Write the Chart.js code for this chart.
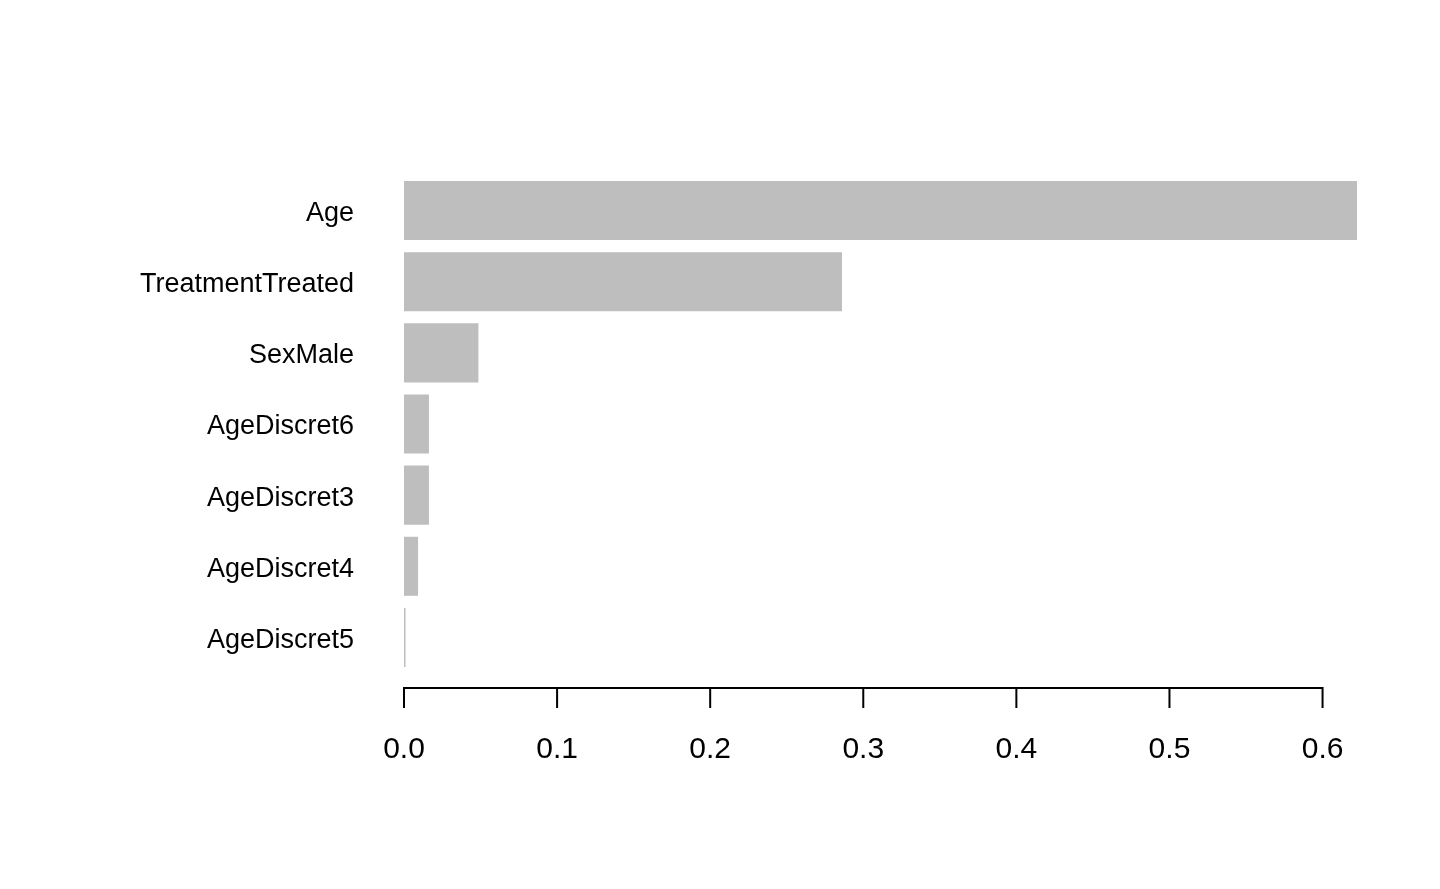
<!DOCTYPE html>
<html>
<head>
<meta charset="utf-8">
<script src="https://cdn.jsdelivr.net/npm/chart.js@4/dist/chart.umd.min.js"></script>
<style>
  html, body { margin: 0; padding: 0; background: #ffffff; }
  #wrap { width: 1440px; height: 889px; position: relative; }
</style>
</head>
<body>
<div id="wrap"><canvas id="c" width="1440" height="889"></canvas></div>
<script>
const categories = ["Age", "TreatmentTreated", "SexMale", "AgeDiscret6", "AgeDiscret3", "AgeDiscret4", "AgeDiscret5"];
const importance = [0.6225, 0.2861, 0.0486, 0.0163, 0.0163, 0.0092, 0.0010];
const tickValues = [0.0, 0.1, 0.2, 0.3, 0.4, 0.5, 0.6];
const tickLabels = ["0.0", "0.1", "0.2", "0.3", "0.4", "0.5", "0.6"];

const axisPlugin = {
  id: 'rAxis',
  afterDraw(chart) {
    const xs = chart.scales.x;
    const ctx = chart.ctx;
    const yLine = chart.chartArea.bottom + 15;
    ctx.save();
    ctx.strokeStyle = '#000000';
    ctx.lineWidth = 2;
    ctx.lineCap = 'butt';
    ctx.beginPath();
    const x0 = xs.getPixelForValue(tickValues[0]);
    const x1 = xs.getPixelForValue(tickValues[tickValues.length - 1]);
    ctx.moveTo(x0 - 1, yLine);
    ctx.lineTo(x1 + 1, yLine);
    tickValues.forEach(v => {
      const px = xs.getPixelForValue(v);
      ctx.moveTo(px, yLine);
      ctx.lineTo(px, yLine + 20);
    });
    ctx.stroke();
    ctx.restore();
  }
};

new Chart(document.getElementById('c'), {
  type: 'bar',
  data: {
    labels: categories,
    datasets: [{
      data: importance,
      backgroundColor: '#bebebe',
      borderWidth: 0,
      barPercentage: 0.83,
      categoryPercentage: 1.0
    }]
  },
  options: {
    indexAxis: 'y',
    responsive: false,
    animation: false,
    events: [],
    layout: { padding: { top: 175, right: 83, left: 0, bottom: 0 } },
    plugins: { legend: { display: false }, tooltip: { enabled: false } },
    scales: {
      x: {
        type: 'linear',
        min: 0,
        max: importance[0],
        afterFit(s) { s.height = 216; },
        afterBuildTicks(s) { s.ticks = tickValues.map(v => ({ value: v })); },
        grid: { display: false },
        border: { display: false },
        ticks: {
          autoSkip: false,
          maxRotation: 0,
          padding: 51,
          color: '#000000',
          font: { family: '"Liberation Sans", Arial, sans-serif', size: 30 },
          callback: (v) => tickLabels[tickValues.findIndex(t => Math.abs(t - v) < 1e-9)]
        }
      },
      y: {
        afterFit(s) { s.width = 404; },
        grid: { display: false },
        border: { display: false },
        ticks: {
          padding: 42,
          labelOffset: 3,
          color: '#000000',
          font: { family: '"Liberation Sans", Arial, sans-serif', size: 27 }
        }
      }
    }
  },
  plugins: [axisPlugin]
});
</script>
</body>
</html>
